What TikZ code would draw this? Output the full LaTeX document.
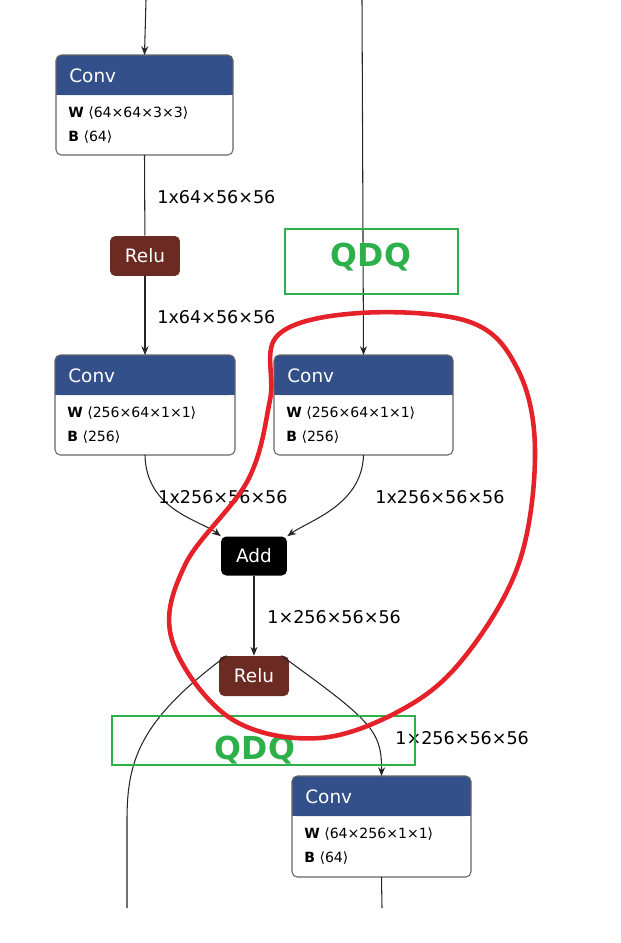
\documentclass[tikz,border=0pt]{standalone}
\usepackage{fontspec}
\setmainfont{DejaVu Sans}
\usetikzlibrary{arrows.meta}
\definecolor{convblue}{HTML}{34508A}
\definecolor{reluc}{HTML}{6B2A22}
\definecolor{qdqg}{HTML}{2DB04A}
\definecolor{redline}{HTML}{E52229}
\begin{document}
\begin{tikzpicture}[x=0.02cm,y=-0.02cm,
 conn/.style={draw=black!85,line width=0.6pt,-{Stealth[length=5pt,width=4pt]}},
 line/.style={draw=black!85,line width=0.6pt},
 lbl/.style={font=\fontsize{10}{12}\selectfont,anchor=west,inner sep=0},
 op/.style={rounded corners=3pt,text=white,font=\fontsize{10.5}{12}\selectfont,inner sep=0},
 qdq/.style={draw=qdqg,line width=0.8pt,inner sep=0},
 qdqt/.style={text=qdqg,font=\bfseries\fontsize{18}{22}\selectfont,inner sep=0}]
\useasboundingbox (0,0) rectangle (621,943);
\newcommand{\convbox}[7]{% name,x1,y1,x2,y2,W,B
 \fill[convblue,rounded corners=3pt] (#2,#3) rectangle (#4,#3+40);
 \fill[convblue] (#2,#3+20) rectangle (#4,#3+40);
 \draw[black!60,line width=0.6pt,rounded corners=3pt] (#2,#3) rectangle (#4,#5);
 \node[coordinate] (#1top) at ({(#2+#4)/2},#3) {};
 \node[coordinate] (#1bot) at ({(#2+#4)/2},#5) {};
 \node[anchor=west,text=white,font=\fontsize{10.5}{12}\selectfont,inner sep=0] (#1h) at (#2+13,#3+21) {Conv};
 \node[anchor=west,font=\fontsize{8}{10}\selectfont,inner sep=0] (#1w) at (#2+12,#3+58) {\textbf{W} ⟨#6⟩};
 \node[anchor=west,font=\fontsize{8}{10}\selectfont,inner sep=0] (#1b) at (#2+12,#3+82) {\textbf{B} ⟨#7⟩};
}
\convbox{ca}{56}{55}{233}{155}{64×64×3×3}{64}
\convbox{cb}{55}{355}{235}{455}{256×64×1×1}{256}
\convbox{cc}{274}{355}{453}{455}{256×64×1×1}{256}
\convbox{cd}{292}{776}{471}{877}{64×256×1×1}{64}
\node[op,fill=reluc,minimum width=1.4cm,minimum height=0.8cm] (r1) at (145,256) {Relu};
\node[op,fill=black,minimum width=1.32cm,minimum height=0.78cm] (add) at (254,556) {Add};
\node[op,fill=reluc,minimum width=1.4cm,minimum height=0.8cm] (r2) at (254,676) {Relu};
\coordinate (t1) at (146,0);
\coordinate (t2) at (362,0);
\coordinate (e1) at (127,908);
\coordinate (e2) at (382,908);
\draw[conn] (t1) -- (catop);
\draw[line] (cabot) -- (r1);
\draw[conn] (r1) -- (cbtop);
\draw[conn] (t2) -- (cctop);
\draw[conn] (cbbot) .. controls (146,510) and (200,520) .. (add.north west);
\draw[conn] (ccbot) .. controls (362,505) and (310,520) .. (add.north east);
\draw[conn] (add) -- (r2);
\draw[conn] ([xshift=-0.16cm]r2.north east) .. controls (370,720) and (382,730) .. (cdtop);
\draw[line] ([xshift=0.16cm]r2.north west) .. controls (140,720) and (127,760) .. (127,820) -- (e1);
\draw[line] (cdbot) -- (e2);
\node[lbl] (l1) at (157,197) {1x64×56×56};
\node[lbl] (l2) at (157,317) {1x64×56×56};
\node[lbl] (l3) at (158,497) {1x256×56×56};
\node[lbl] (l4) at (375,497) {1x256×56×56};
\node[lbl] (l5) at (267,617) {1×256×56×56};
\node[lbl] (l6) at (395,738) {1×256×56×56};
\node[qdq,minimum width=3.46cm,minimum height=1.3cm] (q1) at (371.5,261.5) {};
\node[qdqt] (q1t) at (371,257) {QDQ};
\node[qdq,minimum width=6.06cm,minimum height=0.98cm] (q2) at (263.5,740.5) {};
\node[qdqt] (q2t) at (255,750) {QDQ};
\draw[redline,line width=2.6pt] plot[smooth cycle,tension=0.6] coordinates {
 (278,335) (360,313) (470,322) (518,370) (535,450) (520,560) (470,650) (410,705) (320,738) (230,718) (172,640) (185,565) (248,480) (270,400)};
\end{tikzpicture}
\end{document}
